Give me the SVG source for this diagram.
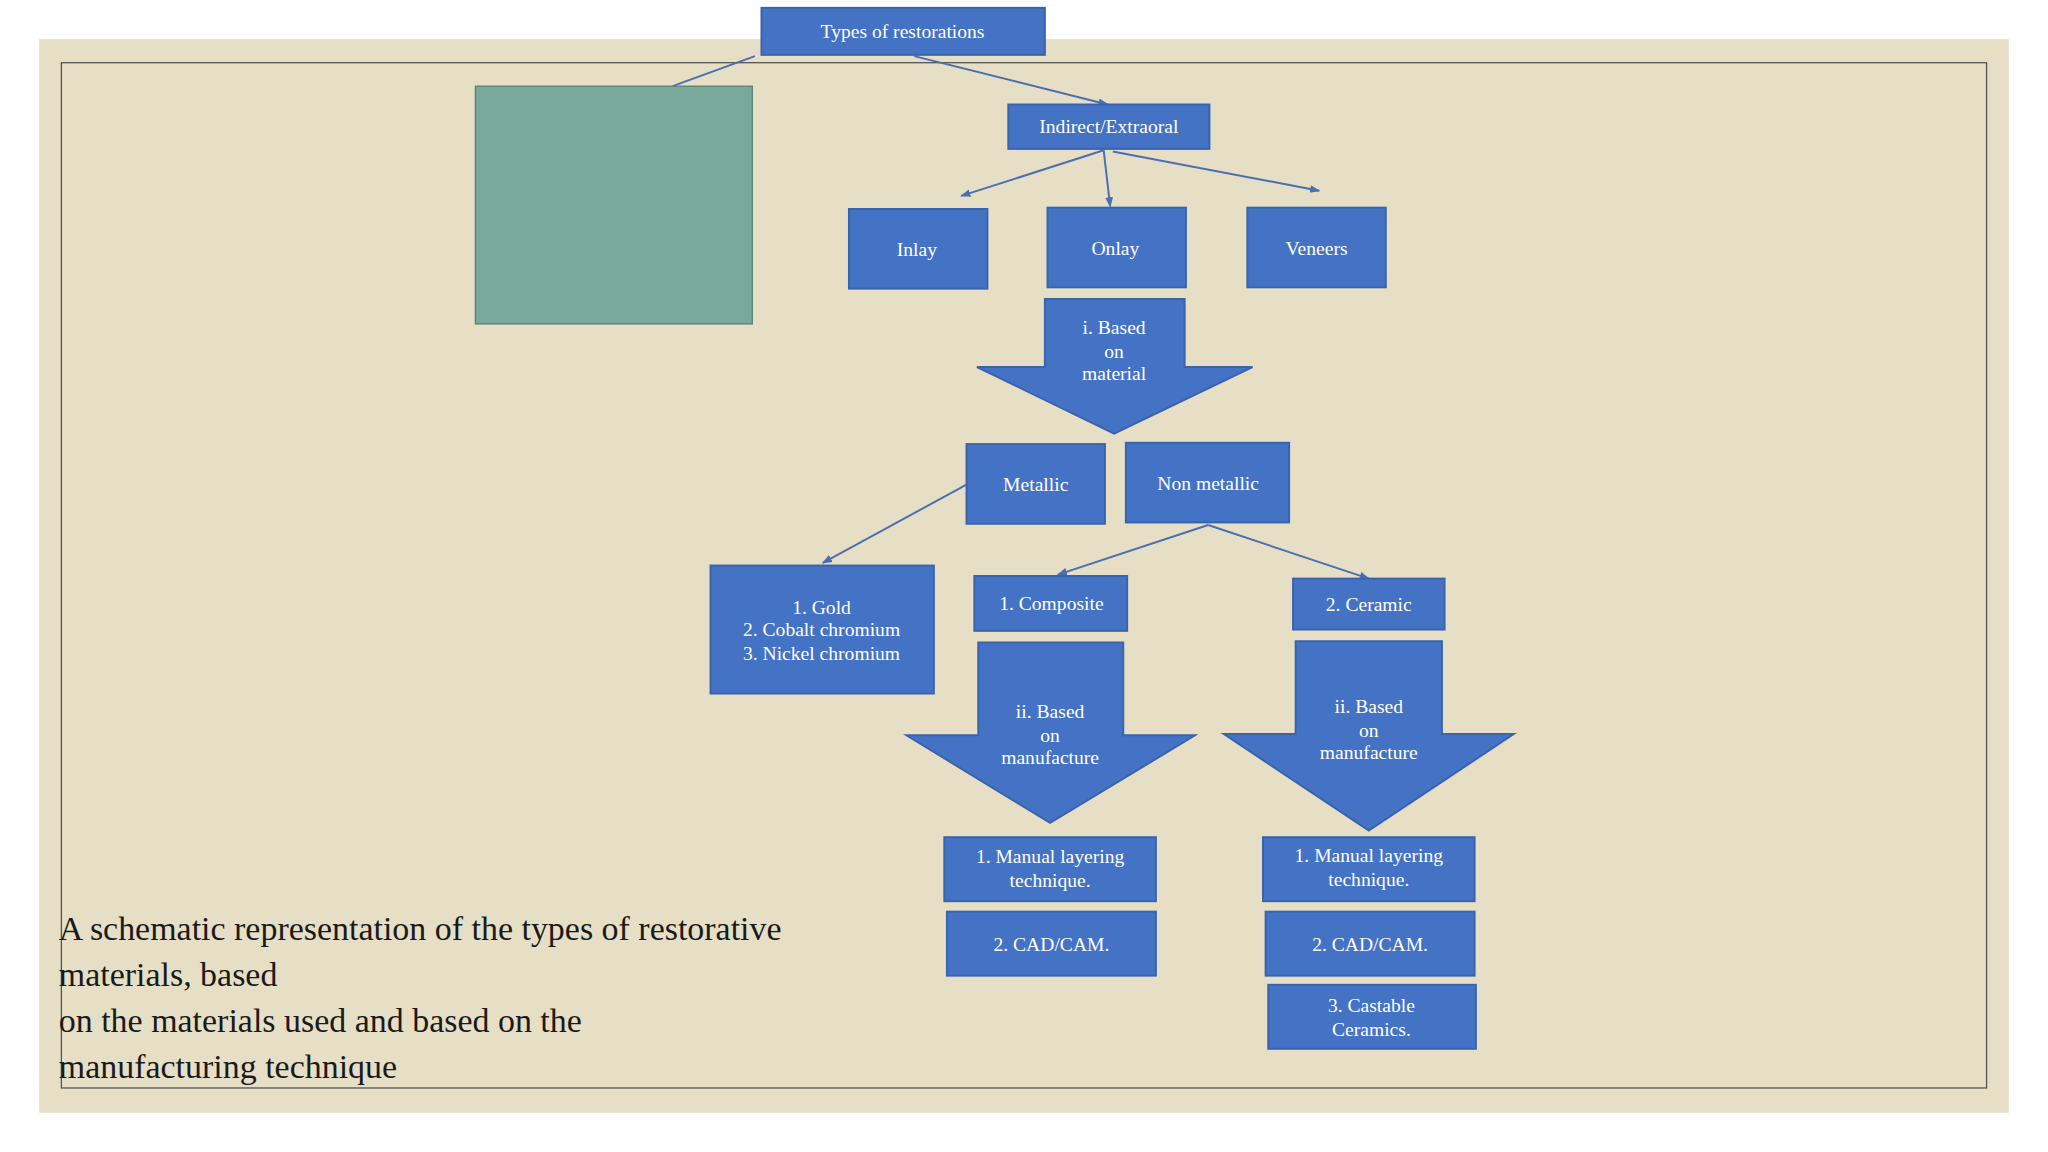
<svg xmlns="http://www.w3.org/2000/svg" width="2048" height="1152" viewBox="0 0 2048 1152">
<defs>
<style>
.b{fill:#4472c4;stroke:#3a63ad;stroke-width:1.5}
.t{fill:#fff;font-family:"Liberation Serif",serif;font-size:15px;text-anchor:middle}
.l{stroke:#4a6fb0;stroke-width:1.5;fill:none}
.c{fill:#1a1a1a;font-family:"Liberation Serif",serif;font-size:26px}
</style>
<marker id="a" markerWidth="8" markerHeight="8" refX="7" refY="4" orient="auto" markerUnits="userSpaceOnUse"><path d="M0,1 L8,4 L0,7 Z" fill="#4a6fb0"/></marker>
</defs>
<rect width="2048" height="1152" fill="#fff"/>
<g transform="scale(1.3061)">
<rect x="30" y="30" width="1508" height="822" fill="#e6dfc6"/>
<rect x="47" y="48" width="1474" height="785" fill="none" stroke="#555" stroke-width="1"/>
<g id="connectors">
<line class="l" x1="578" y1="43" x2="515" y2="66"/>
<line class="l" x1="700" y1="43" x2="848" y2="80" marker-end="url(#a)"/>
<line class="l" x1="845" y1="115" x2="736" y2="150" marker-end="url(#a)"/>
<line class="l" x1="845" y1="115" x2="850" y2="158" marker-end="url(#a)"/>
<line class="l" x1="852" y1="116" x2="1010" y2="146" marker-end="url(#a)"/>
<line class="l" x1="740" y1="371" x2="630" y2="431" marker-end="url(#a)"/>
<line class="l" x1="925" y1="402" x2="810" y2="440" marker-end="url(#a)"/>
<line class="l" x1="925" y1="402" x2="1048" y2="443" marker-end="url(#a)"/>
</g>
<g id="types"><rect class="b" x="583" y="6" width="217" height="36"/><text class="t" x="691" y="29">Types of restorations</text></g>
<g id="green"><rect x="364" y="66" width="212" height="182" fill="#7aa89b" stroke="#5a8070"/></g>
<g id="indirect"><rect class="b" x="772" y="80" width="154" height="34"/><text class="t" x="849" y="102">Indirect/Extraoral</text></g>
<g id="inlay"><rect class="b" x="650" y="160" width="106" height="61"/><text class="t" x="702" y="196">Inlay</text></g>
<g id="onlay"><rect class="b" x="802" y="159" width="106" height="61"/><text class="t" x="854" y="195">Onlay</text></g>
<g id="veneers"><rect class="b" x="955" y="159" width="106" height="61"/><text class="t" x="1008" y="195">Veneers</text></g>
<g id="arrow1"><path class="b" d="M800,229 H907 V281 H959 L853,332 L748,281 H800 Z"/><text class="t" x="853" y="256">i.  Based</text><text class="t" x="853" y="274">on</text><text class="t" x="853" y="291">material</text></g>
<g id="metallic"><rect class="b" x="740" y="340" width="106" height="61"/><text class="t" x="793" y="376">Metallic</text></g>
<g id="nonmetallic"><rect class="b" x="862" y="339" width="125" height="61"/><text class="t" x="925" y="375">Non metallic</text></g>
<g id="gold"><rect class="b" x="544" y="433" width="171" height="98"/><text class="t" x="629" y="470">1. Gold</text><text class="t" x="629" y="487">2. Cobalt chromium</text><text class="t" x="629" y="505">3. Nickel chromium</text></g>
<g id="composite"><rect class="b" x="746" y="441" width="117" height="42"/><text class="t" x="805" y="467">1. Composite</text></g>
<g id="ceramic"><rect class="b" x="990" y="443" width="116" height="39"/><text class="t" x="1048" y="468">2. Ceramic</text></g>
<g id="arrow2"><path class="b" d="M749,492 H860 V563 H915 L804,630 L694,563 H749 Z"/><text class="t" x="804" y="550">ii. Based</text><text class="t" x="804" y="568">on</text><text class="t" x="804" y="585">manufacture</text></g>
<g id="arrow3"><path class="b" d="M992,491 H1104 V562 H1159 L1048,636 L937,562 H992 Z"/><text class="t" x="1048" y="546">ii. Based</text><text class="t" x="1048" y="564">on</text><text class="t" x="1048" y="581">manufacture</text></g>
<g id="manual1"><rect class="b" x="723" y="641" width="162" height="49"/><text class="t" x="804" y="661">1. Manual layering</text><text class="t" x="804" y="679">technique.</text></g>
<g id="cad1"><rect class="b" x="725" y="698" width="160" height="49"/><text class="t" x="805" y="728">2. CAD/CAM.</text></g>
<g id="manual2"><rect class="b" x="967" y="641" width="162" height="49"/><text class="t" x="1048" y="660">1. Manual layering</text><text class="t" x="1048" y="678">technique.</text></g>
<g id="cad2"><rect class="b" x="969" y="698" width="160" height="49"/><text class="t" x="1049" y="728">2. CAD/CAM.</text></g>
<g id="castable"><rect class="b" x="971" y="754" width="159" height="49"/><text class="t" x="1050" y="775">3. Castable</text><text class="t" x="1050" y="793">Ceramics.</text></g>
<g id="caption">
<text class="c" x="45" y="720">A schematic representation of  the types of  restorative</text>
<text class="c" x="45" y="755">materials, based</text>
<text class="c" x="45" y="790"> on the materials used and based on the</text>
<text class="c" x="45" y="825">manufacturing technique</text>
</g>
</g>
</svg>
